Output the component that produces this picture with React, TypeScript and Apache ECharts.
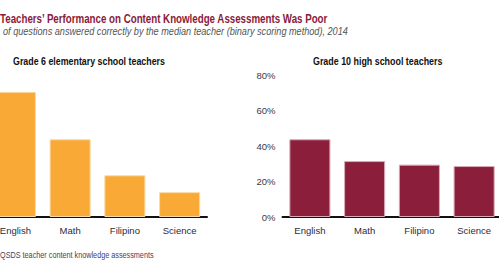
import React, { useEffect, useRef } from "react";
import * as echarts from "echarts";

const categories = ["English", "Math", "Filipino", "Science"];
const grade6Values = [70.5, 43.8, 23.5, 14.0];
const grade10Values = [43.8, 31.5, 29.5, 28.7];
const yTicks = [0, 20, 40, 60, 80];

const titleText = "Teachers\u2019 Performance on Content Knowledge Assessments Was Poor";
const subtitleText = "of questions answered correctly by the median teacher (binary scoring method), 2014";
const leftPanelTitle = "Grade 6 elementary school teachers";
const rightPanelTitle = "Grade 10 high school teachers";
const sourceText = "QSDS teacher content knowledge assessments";

const FONT = "'Liberation Sans', Arial, sans-serif";
const OFFSET = 12; // chart canvas starts 12px left of the page edge

export default function App() {
  const ref = useRef<HTMLDivElement>(null);
  useEffect(() => {
    if (!ref.current) return;
    const chart = echarts.init(ref.current, undefined, { renderer: "svg" });
    const xAxisCommon = {
      type: "category" as const,
      data: categories,
      axisLine: { show: true, lineStyle: { color: "#111111", width: 2 } },
      axisTick: { show: false },
      axisLabel: { color: "#2b2b3a", fontSize: 9.5, fontFamily: FONT, margin: 8 },
    };
    const txt = (x: number, y: number, text: string, fill: string, font: string, sx: number) => ({
      type: "text",
      x: x + OFFSET,
      y,
      scaleX: sx,
      style: { text, fill, font, textBaseline: "middle" },
    });
    chart.setOption({
      animation: false,
      textStyle: { fontFamily: FONT },
      grid: [
        { left: 0, top: 75, width: 219, height: 142 },
        { left: 282.5 + OFFSET, top: 75, width: 219, height: 142 },
      ],
      xAxis: [
        { ...xAxisCommon, gridIndex: 0 },
        { ...xAxisCommon, gridIndex: 1 },
      ],
      yAxis: [
        { type: "value", gridIndex: 0, min: yTicks[0], max: yTicks[yTicks.length - 1], interval: 20, show: false, splitLine: { show: false } },
        {
          type: "value",
          gridIndex: 1,
          min: yTicks[0],
          max: yTicks[yTicks.length - 1],
          interval: 20,
          axisLine: { show: false },
          axisTick: { show: false },
          splitLine: { show: false },
          axisLabel: { color: "#3a3a48", fontSize: 9.5, fontFamily: FONT, margin: 7, formatter: "{value}%" },
        },
      ],
      series: [
        {
          type: "bar",
          xAxisIndex: 0,
          yAxisIndex: 0,
          data: grade6Values,
          barCategoryGap: "25%",
          itemStyle: { color: "#F9A935", borderColor: "#FCD9A6", borderWidth: 1 },
        },
        {
          type: "bar",
          xAxisIndex: 1,
          yAxisIndex: 1,
          data: grade10Values,
          barCategoryGap: "25%",
          itemStyle: { color: "#8A1E3B", borderColor: "#D9AAB6", borderWidth: 1 },
        },
      ],
      graphic: [
        txt(0, 12, titleText, "#8B1A3A", `bold 12.5px ${FONT}`, 0.78),
        txt(3, 26, subtitleText, "#555555", `italic 10.5px ${FONT}`, 0.87),
        txt(13, 56, leftPanelTitle, "#111111", `bold 10px ${FONT}`, 0.885),
        txt(313, 56, rightPanelTitle, "#111111", `bold 10px ${FONT}`, 0.89),
        txt(0, 251, sourceText, "#4a4060", `8.5px ${FONT}`, 0.855),
      ],
    });
    return () => chart.dispose();
  }, []);
  return (
    <div
      ref={ref}
      style={{ position: "fixed", left: -OFFSET, top: 0, width: 514, height: 262, background: "#ffffff" }}
    />
  );
}
